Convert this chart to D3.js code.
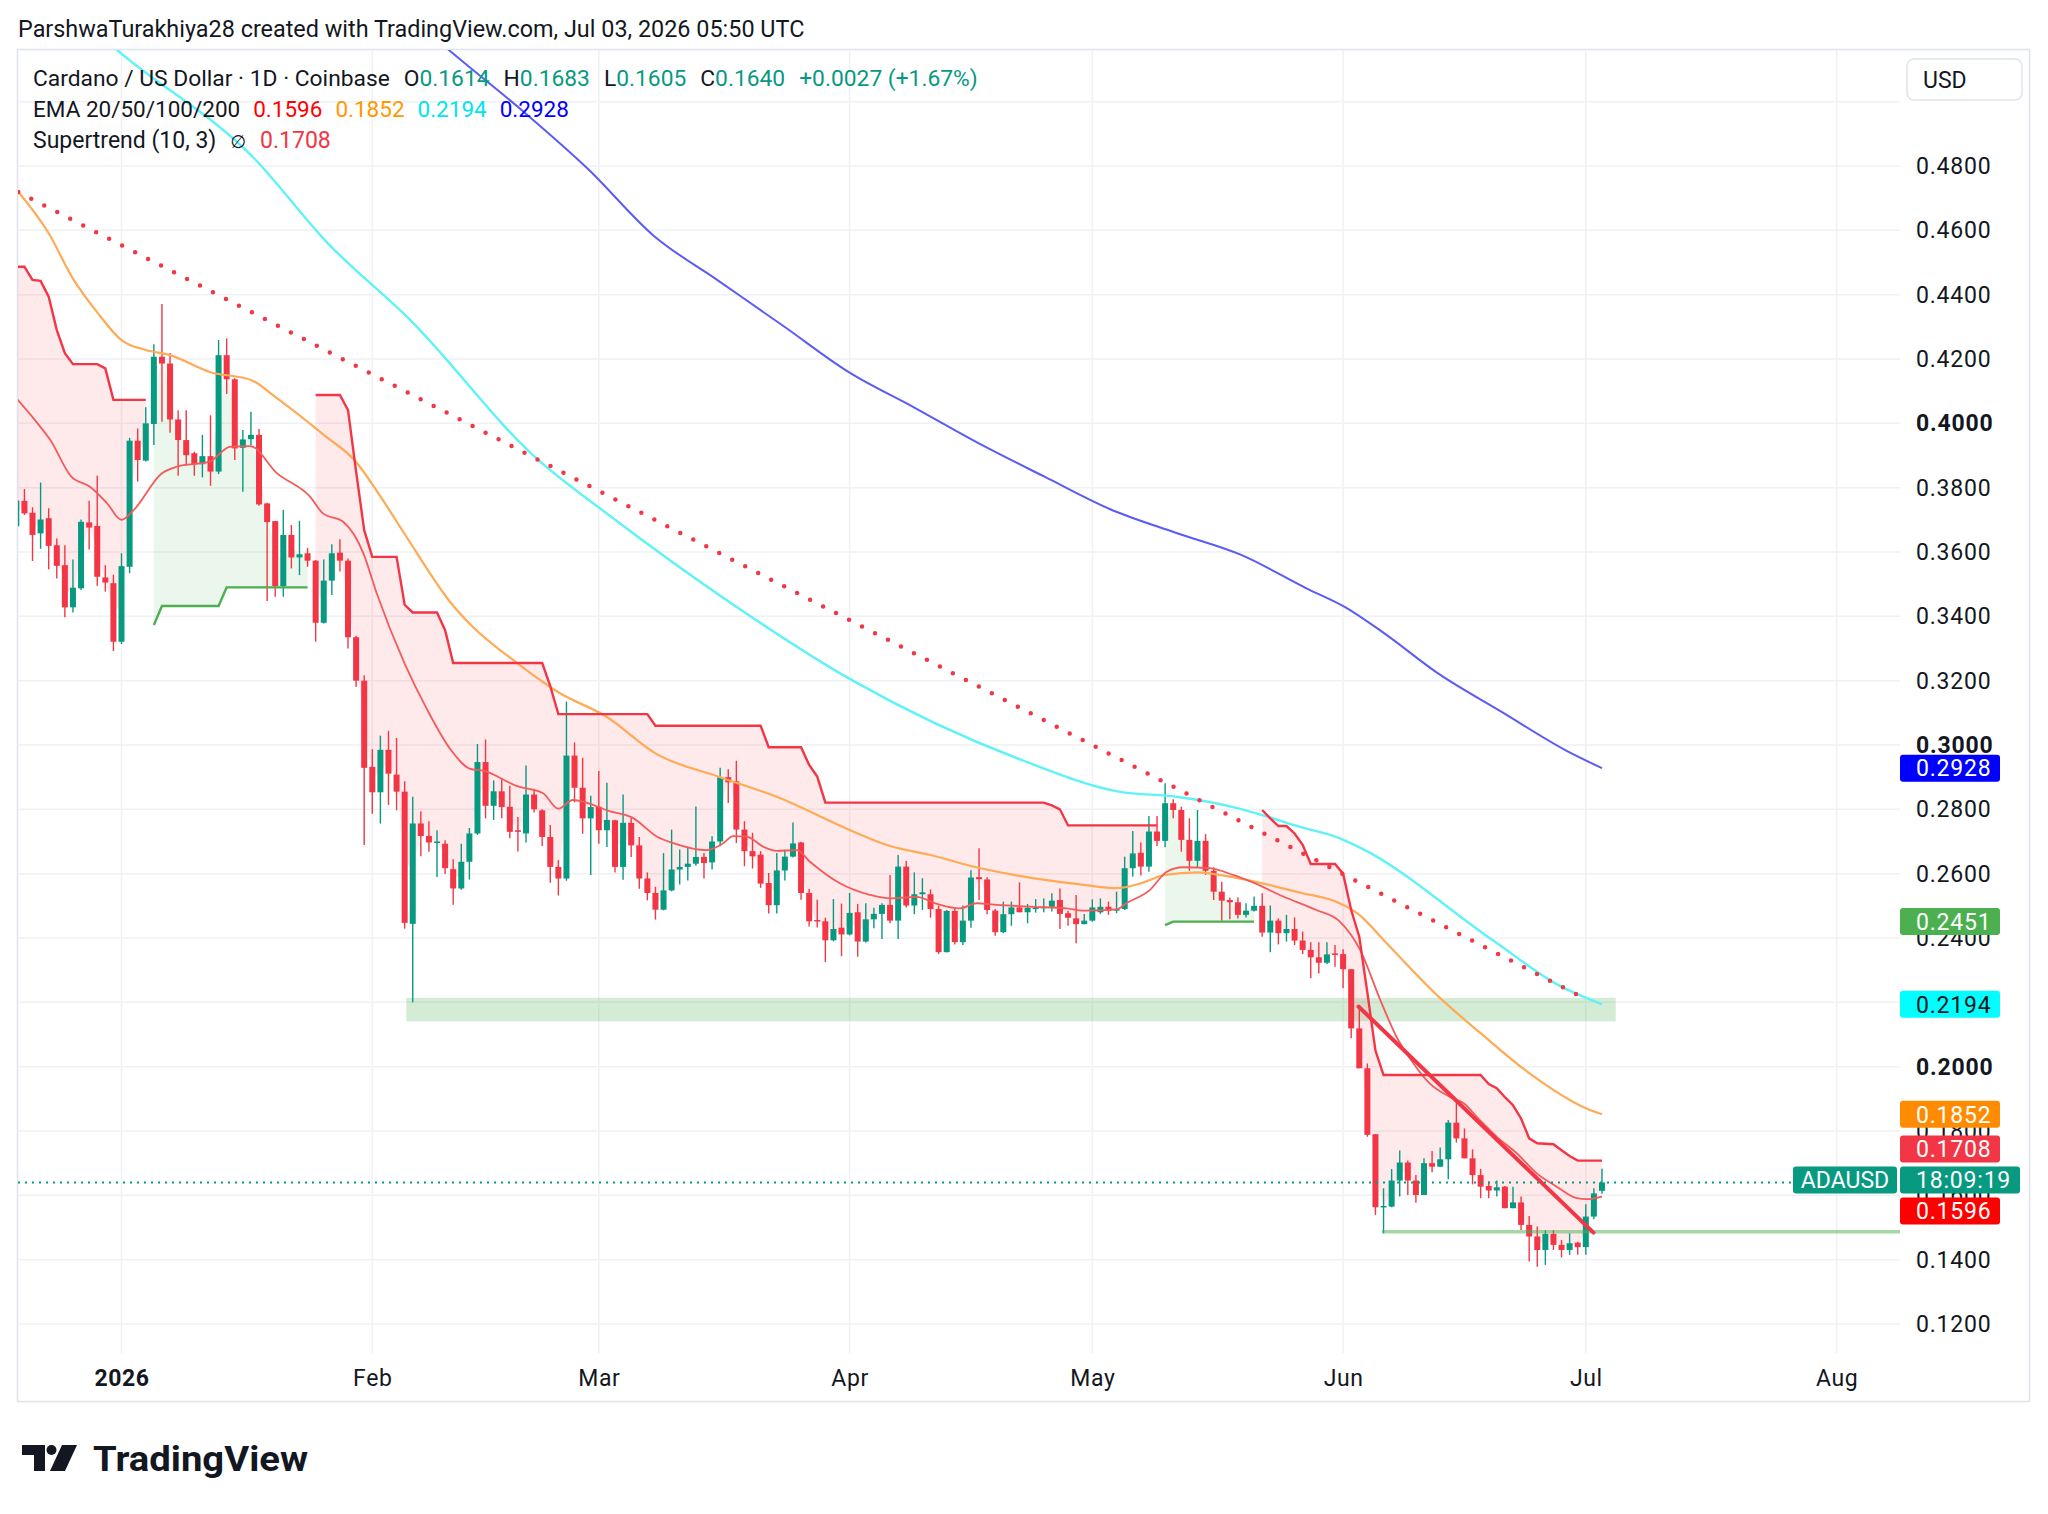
<!DOCTYPE html>
<html>
<head>
<meta charset="UTF-8">
<title>Cardano / US Dollar 1D</title>
<style>
  body { margin: 0; background: #fff; }
  svg text { font-family: Roboto, "Noto Sans", sans-serif; fill: #131722; }
</style>
</head>
<body>
<script src="https://cdn.jsdelivr.net/npm/d3@7"></script>
<script>

// ---- data (days are counted from Jan 1, 2026) ----
var firstDay = -13;   // first candle: Dec 19, 2025

var opens = [
  .3680,.3759,.3722,.3658,.3705,.3621,.3559,.3428,.3487,.3692,.3681,.3521,.3503,
  .3321,.3554,.3946,.3884,.3998,.4207,.4186,.4012,.3948,.3907,.3873,.3898,.3850,.4212,.4137,.3924,.3951,.3964,.3751,.3696,.3494,.3653,.3583,.3596,.3573,.3380,.3511,.3598,.3573,.3335,.3200,
  .2932,.2853,.2985,.2908,.2855,.2444,.2756,.2717,.2697,.2693,.2614,.2554,.2637,.2725,.2947,.2811,.2856,.2808,.2735,.2725,.2846,.2797,.2714,.2621,.2585,.2967,.2867,.2772,
  .2808,.2735,.2766,.2621,.2758,.2688,.2585,.2540,.2488,.2548,.2613,.2621,.2631,.2652,.2635,.2700,.2900,.2887,.2737,.2670,.2659,.2571,.2502,.2610,.2653,.2697,.2540,.2456,.2452,.2393,.2432,
  .2411,.2480,.2389,.2458,.2475,.2503,.2454,.2622,.2501,.2536,.2536,.2490,.2356,.2484,.2387,.2454,.2589,.2582,.2485,.2418,.2474,.2495,.2480,.2490,.2494,.2497,.2518,.2477,.2461,.2443,
  .2454,.2480,.2497,.2485,.2490,.2617,.2665,.2622,.2731,.2702,.2819,.2798,.2705,.2640,.2702,.2609,.2544,.2518,.2511,.2472,.2485,.2500,.2417,.2454,.2415,.2428,.2392,.2363,.2340,.2323,.2352,
  .2350,.2303,.2119,.1995,.1790,.1563,.1565,.1646,.1702,.1646,.1601,.1700,.1689,.1712,.1826,.1777,.1715,.1663,.1629,.1615,.1627,.1560,.1578,.1508,.1472,.1430,.1480,.1446,.1430,.1453,
  .1439,.1534,.1614
];
var highs = [
  .3770,.3796,.3739,.3816,.3736,.3642,.3621,.3577,.3701,.3759,.3837,.3559,.3529,
  .3596,.3955,.3984,.4050,.4246,.4371,.4219,.4041,.4041,.3912,.3964,.4025,.4259,.4264,.4140,.3979,.4036,.3982,.3753,.3696,.3731,.3684,.3697,.3613,.3575,.3577,.3624,.3640,.3580,.3340,.3217,
  .2987,.3029,.3044,.3022,.2887,.2839,.2793,.2763,.2735,.2704,.2645,.2693,.2742,.3003,.3017,.2890,.2897,.2873,.2776,.2936,.2864,.2800,.2751,.2642,.3135,.3008,.2960,.2842,
  .2919,.2883,.2768,.2846,.2773,.2714,.2604,.2559,.2664,.2737,.2675,.2683,.2809,.2664,.2716,.2929,.2925,.2951,.2763,.2727,.2670,.2602,.2664,.2674,.2759,.2699,.2552,.2519,.2463,.2521,.2507,
  .2540,.2506,.2508,.2494,.2508,.2596,.2658,.2639,.2604,.2586,.2551,.2501,.2487,.2490,.2501,.2611,.2679,.2589,.2490,.2513,.2513,.2573,.2506,.2521,.2523,.2539,.2554,.2485,.2534,.2475,
  .2520,.2523,.2513,.2544,.2653,.2733,.2697,.2779,.2779,.2881,.2831,.2808,.2772,.2798,.2723,.2620,.2575,.2526,.2526,.2508,.2529,.2539,.2501,.2461,.2472,.2464,.2420,.2387,.2387,.2387,.2378,
  .2365,.2303,.2187,.2010,.1790,.1622,.1682,.1739,.1708,.1663,.1715,.1738,.1749,.1834,.1891,.1808,.1743,.1682,.1643,.1646,.1629,.1627,.1596,.1536,.1503,.1492,.1492,.1461,.1482,.1456,
  .1572,.1622,.1683
];
var lows = [
  .3508,.3715,.3572,.3610,.3546,.3518,.3397,.3412,.3482,.3608,.3495,.3477,.3292,
  .3314,.3534,.3819,.3881,.3933,.4005,.3971,.3837,.3869,.3837,.3832,.3806,.3842,.4091,.3886,.3787,.3933,.3744,.3448,.3461,.3461,.3549,.3528,.3554,.3321,.3378,.3466,.3539,.3300,.3180,.2689,
  .2786,.2756,.2814,.2797,.2429,.2200,.2654,.2668,.2590,.2599,.2503,.2550,.2582,.2720,.2772,.2767,.2772,.2710,.2669,.2697,.2790,.2686,.2572,.2532,.2578,.2822,.2724,.2596,
  .2693,.2683,.2604,.2581,.2652,.2553,.2517,.2457,.2486,.2545,.2566,.2579,.2625,.2585,.2613,.2685,.2820,.2695,.2623,.2616,.2556,.2476,.2476,.2579,.2650,.2519,.2436,.2433,.2325,.2390,.2343,
  .2408,.2342,.2386,.2430,.2397,.2446,.2397,.2495,.2474,.2487,.2463,.2350,.2355,.2380,.2378,.2432,.2518,.2474,.2407,.2415,.2438,.2480,.2446,.2479,.2480,.2482,.2428,.2438,.2384,.2443,
  .2451,.2475,.2472,.2477,.2487,.2591,.2594,.2606,.2686,.2682,.2772,.2668,.2609,.2620,.2596,.2518,.2454,.2458,.2461,.2464,.2482,.2404,.2356,.2380,.2389,.2378,.2350,.2275,.2290,.2319,.2311,
  .2244,.2088,.1995,.1782,.1539,.1482,.1563,.1596,.1601,.1577,.1601,.1672,.1689,.1650,.1764,.1715,.1634,.1591,.1591,.1596,.1560,.1560,.1492,.1394,.1378,.1384,.1430,.1407,.1415,.1415,
  .1415,.1526,.1605
];
var closes = [
  .3760,.3720,.3653,.3701,.3619,.3557,.3428,.3489,.3694,.3676,.3523,.3505,.3321,
  .3556,.3946,.3886,.4000,.4207,.4186,.4012,.3948,.3901,.3873,.3898,.3850,.4212,.4137,.3922,.3950,.3964,.3748,.3693,.3494,.3653,.3583,.3593,.3573,.3380,.3511,.3596,.3573,.3335,.3200,.2929,
  .2853,.2985,.2911,.2855,.2447,.2756,.2717,.2697,.2700,.2617,.2554,.2637,.2725,.2947,.2811,.2856,.2807,.2730,.2730,.2846,.2800,.2714,.2621,.2585,.2967,.2867,.2772,.2807,
  .2735,.2767,.2621,.2758,.2688,.2585,.2540,.2488,.2548,.2613,.2621,.2631,.2652,.2633,.2700,.2900,.2884,.2737,.2670,.2654,.2569,.2502,.2610,.2653,.2694,.2540,.2452,.2452,.2393,.2428,.2411,
  .2478,.2389,.2458,.2475,.2503,.2454,.2622,.2501,.2536,.2542,.2490,.2356,.2484,.2387,.2454,.2588,.2583,.2487,.2418,.2474,.2495,.2480,.2494,.2495,.2497,.2516,.2475,.2463,.2443,.2454,
  .2495,.2497,.2485,.2490,.2617,.2663,.2622,.2731,.2702,.2819,.2798,.2705,.2640,.2702,.2609,.2544,.2516,.2511,.2472,.2485,.2500,.2417,.2454,.2415,.2428,.2392,.2363,.2340,.2323,.2349,.2348,
  .2303,.2119,.1995,.1788,.1563,.1567,.1646,.1702,.1646,.1601,.1700,.1689,.1712,.1826,.1777,.1715,.1663,.1627,.1615,.1625,.1560,.1578,.1508,.1472,.1430,.1480,.1446,.1430,.1451,.1439,
  .1534,.1606,.1640
];

// EMA lines: [day, value]
var ema20 = [[-13,.4078],[-10.7,.4010],[-8.8,.3948],[-6.2,.3834],[-3.9,.3803],[-1.8,.3752],[0,.3700],[1.5,.3730],[5,.3845],[6.8,.3865],[10.9,.3881],[13.4,.3927],[15.9,.3929],[19.2,.3845],[23.3,.3772],[24.9,.3720],[27.4,.3694],[29.9,.3596],[31.5,.3475],[35,.3253],[37.7,.3114],[40.8,.2982],[43.1,.2926],[44.7,.2920],[48.9,.2872],[52.1,.2850],[54,.2802],[55.8,.2829],[60.4,.2794],[63.1,.2775],[66.2,.2715],[68.2,.2695],[72.3,.2673],[74.4,.2695],[75.6,.2717],[77.3,.2715],[79.3,.2684],[81,.2671],[83.5,.2673],[85.1,.2637],[88.8,.2570],[92.5,.2534],[95,.2523],[98.3,.2528],[100.8,.2506],[103.6,.2492],[105.7,.2508],[108.2,.2503],[112.7,.2497],[116.8,.2492],[118.9,.2485],[123,.2489],[124.2,.2508],[127.1,.2549],[129.2,.2606],[131.2,.2620],[134.5,.2617],[137.4,.2596],[139.9,.2572],[143.6,.2529],[147.7,.2487],[150.6,.2451],[153.1,.2363],[155.6,.2207],[157.6,.2093],[159.7,.2010],[161.7,.1948],[164.2,.1906],[165.9,.1886],[167.9,.1834],[170,.1782],[172.5,.1730],[174.9,.1669],[177.4,.1627],[179.9,.1591],[181.1,.1588],[183,.1596]];
var ema50 = [[-13,.4727],[-9,.4591],[-6,.4450],[-3,.4345],[0,.4259],[3,.4228],[6,.4212],[11,.4159],[16,.4135],[19,.4082],[25,.3964],[29,.3880],[32,.3773],[35,.3656],[41,.3433],[43,.3378],[49,.3253],[54,.3164],[60,.3087],[66,.2974],[74,.2900],[81,.2839],[90,.2736],[95,.2686],[100,.2658],[105,.2624],[111,.2593],[119,.2565],[123,.2555],[126,.2570],[129,.2596],[133,.2604],[137,.2591],[146,.2539],[150,.2514],[153,.2472],[156,.2394],[163,.2213],[168,.2104],[174,.1980],[181,.1871],[183,.1852]];
var ema100 = [[-5,.5260],[-0.6,.5162],[16.5,.4821],[25.3,.4565],[35.7,.4321],[51.3,.3891],[60.4,.3712],[75.4,.3440],[90.4,.3200],[111.4,.2952],[123.3,.2855],[130.4,.2839],[137.4,.2807],[141,.2782],[145.6,.2746],[150.6,.2710],[153.1,.2681],[169.5,.2393],[177.8,.2251],[183,.2194]];
var ema200 = [[35,.5280],[40.4,.5162],[49.6,.4971],[57.7,.4790],[65.7,.4585],[73.8,.4443],[81.9,.4301],[89.9,.4159],[98,.4049],[106.1,.3936],[114.1,.3834],[122.2,.3733],[130.3,.3660],[138.4,.3591],[146.4,.3488],[151.3,.3428],[156.1,.3347],[162.6,.3225],[170.6,.3103],[178.7,.2981],[183,.2928]];

// Supertrend (10, 3) segments: [day, value]
var stDown1 = [[-13,.4487],[-12,.4487],[-11,.4446],[-10,.4443],[-9,.4394],[-8,.4290],[-7,.4218],[-6,.4184],[-3,.4184],[-2,.4171],[-1,.4073],[3,.4073]];
var stUp1 = [[4,.3373],[5,.3432],[12,.3432],[13,.3490],[23,.3490]];
var stDown2 = [[24,.4088],[27,.4088],[28,.4041],[29,.3850],[30,.3668],[31,.3585],[34,.3585],[35,.3436],[36,.3412],[39,.3412],[40,.3357],[41,.3255],[52,.3255],[53,.3183],[54,.3096],[65,.3096],[66,.3060],[79,.3060],[80,.2993],[84,.2993],[85,.2938],[86,.2902],[87,.2821],[114,.2821],[115,.2812],[116,.2800],[117,.2750],[128,.2750]];
var stUp2 = [[129,.2440],[130,.2451],[140,.2451]];
var stDown3 = [[141,.2798],[142,.2772],[143,.2748],[144,.2748],[145,.2725],[146,.2690],[147,.2630],[150,.2630],[151,.2600],[152,.2487],[153,.2404],[154,.2230],[155,.2050],[156,.1974],[168,.1974],[169,.1946],[170,.1933],[171,.1905],[172,.1880],[173,.1839],[174,.1777],[175,.1762],[177,.1759],[178,.1740],[179,.1722],[180,.1708],[183,.1708]];

// drawings
var dottedTrend = [[-12.76,.4719],[180,.2223]];
var fallingLine = [[152.9,.2187],[181.95,.1484]];
var supportZone = {from: 35.2, to: 184.7, top: .2214, bottom: .2141};
var supportRay = {from: 155.8, price: .1487};
var lastPrice = .1640;

var priceTicks = [.12,.14,.16,.18,.20,.22,.24,.26,.28,.30,.32,.34,.36,.38,.40,.42,.44,.46,.48];
var gridPrices = priceTicks.concat([.50]);
var monthStarts = ["2026-01-01","2026-02-01","2026-03-01","2026-04-01","2026-05-01","2026-06-01","2026-07-01","2026-08-01"];

var tagValues = [.2928, .2451, .2194, .1852, .1708, .1640, .1596];
var tagTexts = ["0.2928", "0.2451", "0.2194", "0.1852", "0.1708", "18:09:19", "0.1596"];

// ---- layout ----
var W = 2048, H = 1514;
var plot = {left: 18, right: 1900, top: 50, bottom: 1353};
var red = "#f23645", green = "#089981";
var axisFont = 23;

var svg = d3.select("body").append("svg")
            .attr("width", W)
            .attr("height", H)
            .style("display", "block");

svg.append("rect").attr("width", W).attr("height", H).attr("fill", "#fff");

svg.append("defs").append("clipPath").attr("id", "plotClip")
   .append("rect")
   .attr("x", plot.left).attr("y", plot.top)
   .attr("width", plot.right - plot.left).attr("height", plot.bottom - plot.top);

var base = Date.UTC(2026, 0, 1);
function dayDate(d) { return new Date(base + d * 864e5); }

var xScale = d3.scaleUtc()
               .domain([dayDate(0), dayDate(181)])
               .range([121.5, 1585.8]);
var yScale = d3.scaleLinear()
               .domain([0.12, 0.48])
               .range([1324, 166]);
function X(d) { return xScale(dayDate(d)); }

var candles = opens.map(function(o, i) {
  return {day: firstDay + i, o: o, h: highs[i], l: lows[i], c: closes[i]};
});
var byDay = {};
candles.forEach(function(d) { byDay[d.day] = d; });

// chart frame
svg.append("rect")
   .attr("x", 17.5).attr("y", 49.5).attr("width", 2012).attr("height", 1352)
   .attr("fill", "none").attr("stroke", "#e0e3eb").attr("stroke-width", 1.5);

var canvas = svg.append("g").attr("clip-path", "url(#plotClip)");

// grid
canvas.selectAll(".hgrid")
      .data(gridPrices).enter().append("line")
      .attr("x1", plot.left).attr("x2", plot.right)
      .attr("y1", d => yScale(d)).attr("y2", d => yScale(d))
      .attr("stroke", "#f0f1f4").attr("stroke-width", 1.5);
canvas.selectAll(".vgrid")
      .data(monthStarts).enter().append("line")
      .attr("x1", d => xScale(new Date(d))).attr("x2", d => xScale(new Date(d)))
      .attr("y1", plot.top).attr("y2", plot.bottom)
      .attr("stroke", "#f0f1f4").attr("stroke-width", 1.5);

// support zone
canvas.append("rect")
      .attr("x", X(supportZone.from))
      .attr("width", X(supportZone.to) - X(supportZone.from))
      .attr("y", yScale(supportZone.top))
      .attr("height", yScale(supportZone.bottom) - yScale(supportZone.top))
      .attr("fill", "rgba(76,175,80,0.24)");

// supertrend fills (between band and candle body middle)
var line = d3.line().x(d => X(d[0])).y(d => yScale(d[1]));
function stFill(seg) {
  var pts = seg.slice();
  for (var d = seg[seg.length - 1][0]; d >= seg[0][0]; d--) {
    var c = byDay[d];
    pts.push([d, (c.o + c.c) / 2]);
  }
  return line(pts) + "Z";
}
[stDown1, stDown2, stDown3].forEach(function(seg) {
  canvas.append("path").attr("d", stFill(seg)).attr("fill", "rgba(242,54,69,0.11)");
});
[stUp1, stUp2].forEach(function(seg) {
  canvas.append("path").attr("d", stFill(seg)).attr("fill", "rgba(76,175,80,0.11)");
});

// candles
var bodyW = 6;
canvas.selectAll(".wick")
      .data(candles).enter().append("line")
      .attr("x1", d => X(d.day)).attr("x2", d => X(d.day))
      .attr("y1", d => yScale(d.h)).attr("y2", d => yScale(d.l))
      .attr("stroke", d => d.c >= d.o ? green : red)
      .attr("stroke-width", 1.4);
canvas.selectAll(".body")
      .data(candles).enter().append("rect")
      .attr("x", d => X(d.day) - bodyW / 2)
      .attr("width", bodyW)
      .attr("y", d => yScale(Math.max(d.o, d.c)))
      .attr("height", d => Math.max(1.5, Math.abs(yScale(d.o) - yScale(d.c))))
      .attr("fill", d => d.c >= d.o ? green : red);

// EMAs
var smooth = d3.line().x(d => X(d[0])).y(d => yScale(d[1])).curve(d3.curveMonotoneX);
canvas.append("path").attr("d", smooth(ema200)).attr("fill", "none")
      .attr("stroke", "#5a5cf5").attr("stroke-width", 2);
canvas.append("path").attr("d", smooth(ema100)).attr("fill", "none")
      .attr("stroke", "#5ff2f7").attr("stroke-width", 2.4);
canvas.append("path").attr("d", smooth(ema50)).attr("fill", "none")
      .attr("stroke", "#ffaa55").attr("stroke-width", 2.2);
canvas.append("path").attr("d", smooth(ema20)).attr("fill", "none")
      .attr("stroke", "#f55a5a").attr("stroke-width", 1.8);

// supertrend bands
[stDown1, stDown2, stDown3].forEach(function(seg) {
  canvas.append("path").attr("d", line(seg)).attr("fill", "none")
        .attr("stroke", red).attr("stroke-width", 2.4);
});
[stUp1, stUp2].forEach(function(seg) {
  canvas.append("path").attr("d", line(seg)).attr("fill", "none")
        .attr("stroke", "#4caf50").attr("stroke-width", 2.4);
});

// drawings
canvas.append("path").attr("d", line(dottedTrend)).attr("fill", "none")
      .attr("stroke", red).attr("stroke-width", 4.5)
      .attr("stroke-linecap", "round").attr("stroke-dasharray", "0 14.6");
canvas.append("line")
      .attr("x1", X(supportRay.from)).attr("x2", plot.right)
      .attr("y1", yScale(supportRay.price)).attr("y2", yScale(supportRay.price))
      .attr("stroke", "rgba(76,175,80,0.5)").attr("stroke-width", 3.5);
canvas.append("path").attr("d", line(fallingLine)).attr("fill", "none")
      .attr("stroke", red).attr("stroke-width", 4).attr("stroke-linecap", "round");
canvas.append("line")
      .attr("x1", plot.left).attr("x2", plot.right)
      .attr("y1", yScale(lastPrice)).attr("y2", yScale(lastPrice))
      .attr("stroke", green).attr("stroke-width", 2).attr("stroke-dasharray", "2 5");

// price axis
var yAxis = d3.axisRight(yScale).tickValues(priceTicks)
              .tickFormat(d3.format(".4f")).tickSize(0).tickPadding(16);
var gy = svg.append("g").attr("transform", "translate(" + plot.right + ",0)").call(yAxis);
gy.select(".domain").remove();
gy.selectAll("text")
  .attr("font-size", axisFont)
  .attr("font-family", "Roboto, sans-serif")
  .attr("letter-spacing", 0.8)
  .attr("fill", "#131722")
  .attr("font-weight", d => Math.abs(d * 10 - Math.round(d * 10)) < 1e-6 ? 700 : 400);

// time axis
var xAxis = d3.axisBottom(xScale).tickValues(monthStarts.map(d => new Date(d)))
              .tickFormat(d => d.getUTCMonth() === 0 ? "2026" : d3.utcFormat("%b")(d))
              .tickSize(0).tickPadding(17);
var gx = svg.append("g").attr("transform", "translate(0," + plot.bottom + ")").call(xAxis);
gx.select(".domain").remove();
gx.selectAll("text")
  .attr("font-size", axisFont)
  .attr("font-family", "Roboto, sans-serif")
  .attr("letter-spacing", 0.6)
  .attr("fill", "#131722")
  .attr("font-weight", d => d.getUTCMonth() === 0 ? 700 : 400);

// price tags on the axis
var tagColors = [["#0000ff", "#fff"], ["#4caf50", "#fff"], ["#00ffff", "#131722"], ["#ff8c00", "#fff"],
                 [red, "#fff"], [green, "#fff"], ["#ff0000", "#fff"]];
var tags = tagValues.map(function(v, i) {
  return {v: v, text: tagTexts[i], y0: yScale(v), bg: tagColors[i][0], fg: tagColors[i][1]};
});
function spread(items, gap) {
  items.sort((a, b) => a.y0 - b.y0);
  var clusters = items.map(d => ({items: [d], top: d.y0}));
  var merged = true;
  while (merged) {
    merged = false;
    for (var i = 1; i < clusters.length; i++) {
      var a = clusters[i - 1], b = clusters[i];
      if (a.top + a.items.length * gap > b.top) {
        a.items = a.items.concat(b.items);
        a.top = d3.mean(a.items, d => d.y0) - (a.items.length - 1) * gap / 2;
        clusters.splice(i, 1);
        merged = true;
        break;
      }
    }
  }
  clusters.forEach(c => c.items.forEach((d, k) => { d.y = c.top + k * gap; }));
}
spread(tags, 31);

var tagH = 27;
var tg = svg.selectAll(".tag").data(tags).enter().append("g");
tg.append("rect")
  .attr("x", plot.right).attr("y", d => d.y - tagH / 2)
  .attr("width", d => d.v === lastPrice ? 120 : 100).attr("height", tagH)
  .attr("rx", 3).attr("fill", d => d.bg);
tg.append("text")
  .attr("x", plot.right + 16).attr("y", d => d.y)
  .attr("dy", "0.36em")
  .attr("font-size", axisFont)
  .attr("letter-spacing", 0.8)
  .style("fill", d => d.fg)
  .text(d => d.text);

// symbol tag next to the countdown
var lastTag = tags.filter(d => d.v === lastPrice)[0];
svg.append("rect")
   .attr("x", 1793).attr("y", lastTag.y - tagH / 2)
   .attr("width", 104).attr("height", tagH).attr("rx", 3).attr("fill", green);
svg.append("text")
   .attr("x", 1845).attr("y", lastTag.y).attr("dy", "0.36em")
   .attr("text-anchor", "middle").attr("font-size", axisFont)
   .style("fill", "#fff").text("ADAUSD");

// currency box
svg.append("rect")
   .attr("x", 1907).attr("y", 59).attr("width", 115).attr("height", 41).attr("rx", 7)
   .attr("fill", "#fff").attr("stroke", "#e0e3eb").attr("stroke-width", 1.5);
svg.append("text").attr("x", 1923).attr("y", 80).attr("dy", "0.36em")
   .attr("font-size", axisFont).text("USD");

// header
svg.append("text").attr("x", 18).attr("y", 36.5).attr("font-size", 23.4)
   .text("ParshwaTurakhiya28 created with TradingView.com, Jul 03, 2026 05:50 UTC");

// legend
var leg1 = svg.append("text").attr("x", 33).attr("y", 86).attr("font-size", 22.8);
leg1.append("tspan").text("Cardano / US Dollar · 1D · Coinbase");
[["O", "0.1614"], ["H", "0.1683"], ["L", "0.1605"], ["C", "0.1640"]].forEach(function(p, i) {
  leg1.append("tspan").attr("dx", 14).text(p[0]);
  leg1.append("tspan").style("fill", green).text(p[1]);
});
leg1.append("tspan").attr("dx", 14).style("fill", green).text("+0.0027 (+1.67%)");

var leg2 = svg.append("text").attr("x", 33).attr("y", 117).attr("font-size", 22.5);
leg2.append("tspan").text("EMA 20/50/100/200");
[["0.1596", "#ff0000"], ["0.1852", "#ff9800"], ["0.2194", "#00e5f0"], ["0.2928", "#0000ff"]].forEach(function(p) {
  leg2.append("tspan").attr("dx", 13).style("fill", p[1]).text(p[0]);
});

var leg3 = svg.append("text").attr("x", 33).attr("y", 148).attr("font-size", 23);
leg3.append("tspan").text("Supertrend (10, 3)");
leg3.append("tspan").attr("dx", 14).style("font-family", "DejaVu Sans").attr("font-size", 18).text("∅");
leg3.append("tspan").attr("dx", 14).style("fill", red).text("0.1708");

// TradingView logo
var logo = svg.append("g").attr("fill", "#131722");
logo.append("path").attr("d", "M22 1445H45V1471H34V1455H22Z");
logo.append("circle").attr("cx", 51.5).attr("cy", 1450).attr("r", 5);
logo.append("path").attr("d", "M62 1445H77L65 1471H50Z");
svg.append("text").attr("x", 93).attr("y", 1471)
   .attr("font-size", 35).attr("font-weight", 700)
   .attr("textLength", 215).attr("lengthAdjust", "spacingAndGlyphs")
   .text("TradingView");

</script>
</body>
</html>
